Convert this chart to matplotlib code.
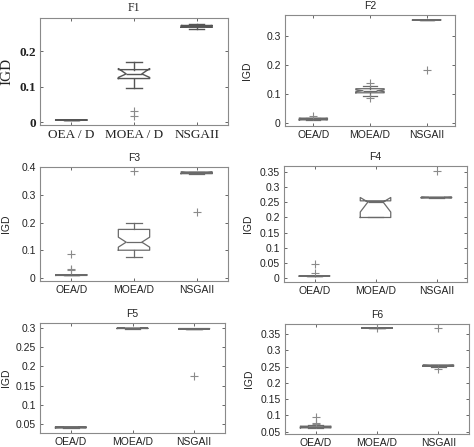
import matplotlib
matplotlib.use("Agg")
import matplotlib.pyplot as plt
from matplotlib.ticker import FuncFormatter

categories = ["OEA/D", "MOEA/D", "NSGAII"]
categories_f1 = ["OEA / D", "MOEA / D", "NSGAII"]
titles = ["F1", "F2", "F3", "F4", "F5", "F6"]

# per panel box statistics: [OEA/D, MOEA/D, NSGAII]
f1_q1 = [0.0060, 0.123, 0.267]
f1_med = [0.0065, 0.136, 0.270]
f1_q3 = [0.0070, 0.148, 0.272]
f1_wlo = [0.0060, 0.097, 0.262]
f1_whi = [0.0070, 0.170, 0.277]
f1_cilo = [0.0062, 0.126, 0.268]
f1_cihi = [0.0068, 0.151, 0.272]
f1_fliers = [[], [0.032, 0.018], []]

f2_q1 = [0.012, 0.105, 0.354]
f2_med = [0.015, 0.112, 0.355]
f2_q3 = [0.018, 0.119, 0.356]
f2_wlo = [0.010, 0.095, 0.354]
f2_whi = [0.020, 0.128, 0.356]
f2_cilo = [0.013, 0.109, 0.354]
f2_cihi = [0.017, 0.115, 0.356]
f2_fliers = [[0.027], [0.139, 0.087], [0.183]]

f3_q1 = [0.010, 0.101, 0.377]
f3_med = [0.012, 0.130, 0.380]
f3_q3 = [0.013, 0.176, 0.383]
f3_wlo = [0.010, 0.076, 0.377]
f3_whi = [0.013, 0.199, 0.383]
f3_cilo = [0.011, 0.112, 0.378]
f3_cihi = [0.013, 0.148, 0.382]
f3_fliers = [[0.087, 0.033, 0.028], [0.386], [0.240]]

f4_q1 = [0.006, 0.200, 0.265]
f4_med = [0.007, 0.251, 0.266]
f4_q3 = [0.008, 0.255, 0.267]
f4_wlo = [0.006, 0.200, 0.265]
f4_whi = [0.008, 0.255, 0.267]
f4_cilo = [0.006, 0.218, 0.265]
f4_cihi = [0.008, 0.266, 0.267]
f4_fliers = [[0.047, 0.018], [], [0.354]]

f5_q1 = [0.039, 0.2995, 0.2985]
f5_med = [0.040, 0.300, 0.299]
f5_q3 = [0.042, 0.3005, 0.2995]
f5_wlo = [0.039, 0.2995, 0.2985]
f5_whi = [0.042, 0.3005, 0.2995]
f5_cilo = [0.0395, 0.2998, 0.2988]
f5_cihi = [0.0415, 0.3002, 0.2992]
f5_fliers = [[], [], [0.176]]

f6_q1 = [0.062, 0.3685, 0.251]
f6_med = [0.064, 0.369, 0.253]
f6_q3 = [0.067, 0.3695, 0.255]
f6_wlo = [0.061, 0.3685, 0.250]
f6_whi = [0.071, 0.3695, 0.256]
f6_cilo = [0.063, 0.3688, 0.252]
f6_cihi = [0.066, 0.3692, 0.254]
f6_fliers = [[0.096, 0.077, 0.074], [0.369], [0.368, 0.244]]

panels = [
    (f1_q1, f1_med, f1_q3, f1_wlo, f1_whi, f1_cilo, f1_cihi, f1_fliers),
    (f2_q1, f2_med, f2_q3, f2_wlo, f2_whi, f2_cilo, f2_cihi, f2_fliers),
    (f3_q1, f3_med, f3_q3, f3_wlo, f3_whi, f3_cilo, f3_cihi, f3_fliers),
    (f4_q1, f4_med, f4_q3, f4_wlo, f4_whi, f4_cilo, f4_cihi, f4_fliers),
    (f5_q1, f5_med, f5_q3, f5_wlo, f5_whi, f5_cilo, f5_cihi, f5_fliers),
    (f6_q1, f6_med, f6_q3, f6_wlo, f6_whi, f6_cilo, f6_cihi, f6_fliers),
]

ylims = [(-0.0075, 0.293), (-0.009, 0.372), (-0.01, 0.401),
         (-0.013, 0.370), (0.0255, 0.314), (0.043, 0.381)]
yticks = [[0, 0.1, 0.2], [0, 0.1, 0.2, 0.3], [0, 0.1, 0.2, 0.3, 0.4],
          [0, 0.05, 0.1, 0.15, 0.2, 0.25, 0.3, 0.35],
          [0.05, 0.1, 0.15, 0.2, 0.25, 0.3],
          [0.05, 0.1, 0.15, 0.2, 0.25, 0.3, 0.35]]

W, H = 474, 447
rects_px = [(40, 18, 188, 107), (285, 15, 170, 111),
            (40, 167, 188, 114), (284, 166, 183, 116),
            (40, 323, 185, 110), (285, 324, 184, 110)]
# x pixel of the right edge of each rotated "IGD" label
ylabel_px = [13, 252, 11, 253, 11, 254]

fig = plt.figure(figsize=(W / 100, H / 100), dpi=100)
fig.patch.set_facecolor("white")

line_col = "#6a6a6a"
spine_col = "#8a8a8a"
fmt = FuncFormatter(lambda v, p: "%g" % round(v, 4))

for i, (rect, stats_arrays) in enumerate(zip(rects_px, panels)):
    x0, y0, w, h = rect
    ax = fig.add_axes([x0 / W, 1 - (y0 + h) / H, w / W, h / H])
    q1, med, q3, wlo, whi, cilo, cihi, fl = stats_arrays
    stats = []
    for j in range(3):
        stats.append(dict(med=med[j], q1=q1[j], q3=q3[j], whislo=wlo[j],
                          whishi=whi[j], cilo=cilo[j], cihi=cihi[j],
                          fliers=fl[j], label=categories[j]))
    serif = (i == 0)
    lw = 1.0 if serif else 0.9
    col = "#555555" if serif else line_col
    ax.bxp(stats, positions=[1, 2, 3], widths=0.5, shownotches=True,
           boxprops=dict(color=col, linewidth=lw),
           whiskerprops=dict(color=col, linewidth=lw, linestyle="-"),
           capprops=dict(color=col, linewidth=lw),
           medianprops=dict(color=col, linewidth=lw),
           flierprops=dict(marker="+", markeredgecolor="#8a8a8a",
                           markersize=6, markeredgewidth=0.8, linestyle="none"))
    ax.set_xlim(0.5, 3.5)
    ax.set_ylim(*ylims[i])
    ax.set_yticks(yticks[i])
    ax.yaxis.set_major_formatter(fmt)
    ax.set_xticks([1, 2, 3])
    for s in ax.spines.values():
        s.set_color(spine_col)
        s.set_linewidth(0.8)
    ax.tick_params(direction="in", length=2.5, width=0.7, color="#666666",
                   top=True, right=True, pad=3)
    if serif:
        fam = ["Liberation Serif"]
        ax.set_xticklabels(categories_f1, family=fam, fontsize=9.5, color="#222222")
        for t in ax.get_yticklabels():
            t.set_family(fam)
            t.set_fontsize(9.5)
            t.set_fontweight("bold")
            t.set_color("#222222")
        ax.set_ylabel("IGD", family=fam, fontsize=11, color="#222222")
        ax.set_title(titles[i], family=fam, fontsize=8.5, color="#222222", pad=5)
    else:
        fam = ["Liberation Sans"]
        ax.set_xticklabels(categories, family=fam, fontsize=7.5, color="#222222")
        for t in ax.get_yticklabels():
            t.set_family(fam)
            t.set_fontsize(7.5)
            t.set_color("#222222")
        ax.set_ylabel("IGD", family=fam, fontsize=7.5, color="#222222")
        ax.set_title(titles[i], family=fam, fontsize=7.5, color="#222222", pad=4)
    ax.yaxis.set_label_coords((ylabel_px[i] - x0) / w, 0.5)

fig.savefig("out.png", dpi=100, facecolor="white")
